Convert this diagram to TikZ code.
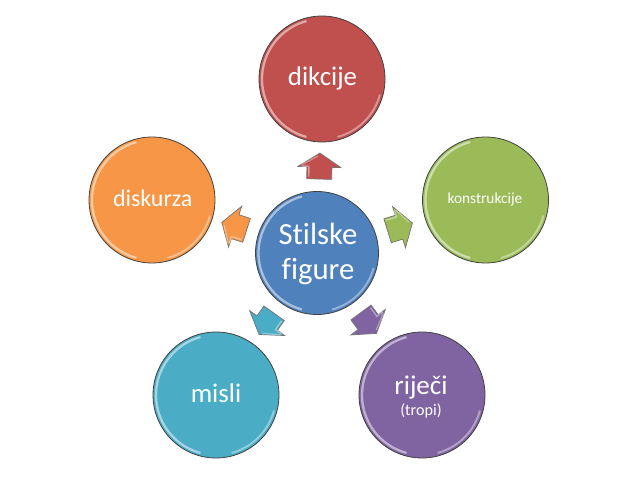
\documentclass[tikz,border=0pt]{standalone}
\usepackage{fontspec}
\setmainfont{Carlito}[Ligatures=NoCommon]
\usetikzlibrary{calc}
\definecolor{cblue}{HTML}{4F81BD}
\definecolor{cred}{HTML}{C0504D}
\definecolor{cgreen}{HTML}{9BBB59}
\definecolor{cpurple}{HTML}{8064A2}
\definecolor{caqua}{HTML}{4BACC6}
\definecolor{corange}{HTML}{F79646}
\newcommand\glossring[2]{%
  \draw[white,opacity=.5,line width=1.3pt] ([shift={(105:#2)}]#1.center) arc[start angle=105,end angle=255,radius=#2];
  \draw[white,opacity=.4,line width=1.1pt] ([shift={(285:#2)}]#1.center) arc[start angle=285,end angle=345,radius=#2];}
\begin{document}
\begin{tikzpicture}[x=0.02cm,y=-0.02cm,
  disc/.style={circle, draw=black!75, line width=0.45pt, inner sep=0pt, minimum size=2.52cm, fill=#1},
  lbl/.style={text=white, anchor=base, inner sep=0pt},
  arrowshape/.style={fill=#1, draw=black!55, line width=0.4pt, line join=miter}]
\useasboundingbox[fill=white] (0,0) rectangle (638,479);

% circles
\node[disc=cred]    (top)   at (322,79)  {};
\node[disc=corange] (left)  at (152,200) {};
\node[disc=cgreen]  (right) at (485.5,200) {};
\node[disc=caqua]   (bl)    at (216,395) {};
\node[disc=cpurple] (br)    at (422,395) {};
\node[disc=cblue, minimum size=2.46cm] (c) at (317,253) {};

\glossring{top}{1.2cm}
\glossring{left}{1.2cm}
\glossring{right}{1.2cm}
\glossring{bl}{1.2cm}
\glossring{br}{1.2cm}
\glossring{c}{1.17cm}

% arrows from centre towards each outer circle
\foreach \o/\col in {top/cred,left/corange,right/cgreen,bl/caqua,br/cpurple}{
  \pgfmathanglebetweenpoints{\pgfpointanchor{c}{center}}{\pgfpointanchor{\o}{center}}
  \let\ang\pgfmathresult
  \begin{scope}[shift={(c.center)}, rotate=\ang, x=0.02cm, y=0.02cm]
    \path[arrowshape=\col] (74,-12.5) -- (86,-12.5) -- (86,-21.5) -- (100,0) -- (86,21.5) -- (86,12.5) -- (74,12.5) -- cycle;
    \draw[white,opacity=.4,line width=0.8pt] (76,10.5) -- (86.5,10.5) -- (86.5,18);
    \draw[white,opacity=.35,line width=0.8pt] (88,17.5) -- (97,2);
  \end{scope}
}

% labels
\node[lbl, font=\fontsize{17.5}{20}\selectfont] (s1) at (318,245) {Stilske};
\node[lbl, font=\fontsize{17.5}{20}\selectfont] (s2) at (318,279) {figure};
\node[lbl, font=\fontsize{15.3}{18}\selectfont] (l1) at (322.5,86) {dikcije};
\node[lbl, font=\fontsize{13.6}{16}\selectfont] (l2) at (152.7,206.7) {diskurza};
\node[lbl, font=\fontsize{8.7}{10}\selectfont] (l3) at (485,204) {konstrukcije};
\node[lbl, font=\fontsize{15.3}{18}\selectfont] (l4) at (216,402) {misli};
\node[lbl, font=\fontsize{15.4}{18}\selectfont] (l5) at (421,394) {riječi};
\node[lbl, font=\fontsize{9.2}{11}\selectfont] (l6) at (421,415) {(tropi)};
\end{tikzpicture}
\end{document}
